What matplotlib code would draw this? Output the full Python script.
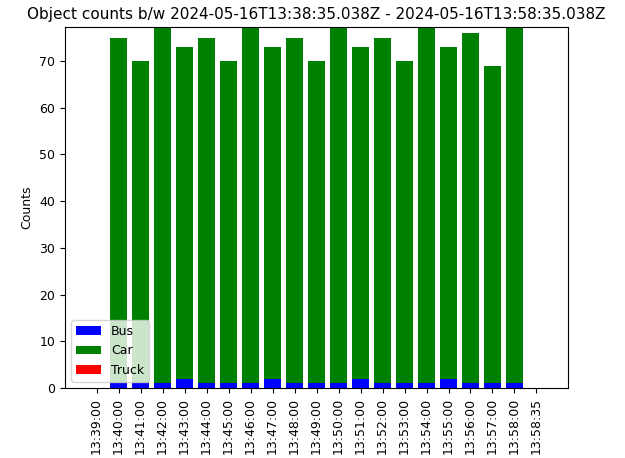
import numpy as np
import matplotlib.pyplot as plt

labels = ["13:39:00"] + ["13:%02d:00" % m for m in range(40, 59)] + ["13:58:35"]
bus = [0, 1, 1, 1, 2, 1, 1, 1, 2, 1, 1, 1, 2, 1, 1, 1, 2, 1, 1, 1, 0]
totals = [0, 75, 70, 78, 73, 75, 70, 78, 73, 75, 70, 78, 73, 75, 70, 78, 73, 76, 69, 78, 0]
car = [t - b for t, b in zip(totals, bus)]
truck = [0] * len(labels)

plt.rcParams["font.size"] = 9
fig = plt.figure(figsize=(6.25, 4.58), dpi=100)
ax = fig.add_axes([0.104, 0.153, 0.805, 0.788])
x = np.arange(len(labels))
ax.bar(x, bus, color="blue", label="Bus")
ax.bar(x, car, bottom=bus, color="green", label="Car")
ax.bar(x, truck, bottom=np.array(bus) + np.array(car), color="red", label="Truck")
ax.set_xticks(x)
ax.set_xticklabels(labels, rotation=90)
ax.set_ylim(0, 77.3)
ax.set_ylabel("Counts")
ax.set_title("Object counts b/w 2024-05-16T13:38:35.038Z - 2024-05-16T13:58:35.038Z", fontsize=11)
ax.legend(loc="lower left")
fig.savefig("out.png")
